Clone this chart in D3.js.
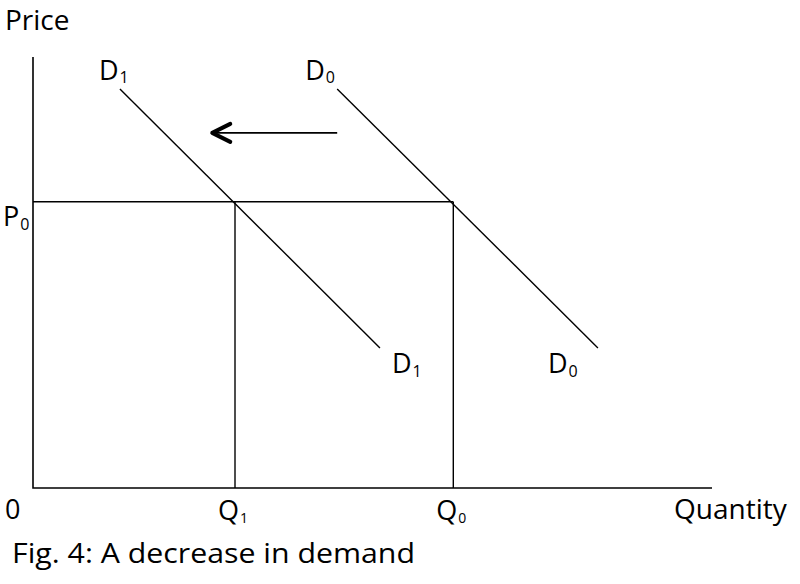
<!DOCTYPE html>
<meta charset="utf-8">
<style>
body { margin: 0; background: #fff; }
text { font-family: "Open Sans", sans-serif; fill: #000; }
.curve, .guide, .axis-line { stroke: #000; fill: none; }
</style>
<svg width="800" height="584"></svg>
<script src="https://d3js.org/d3.v7.min.js"></script>
<script>

// diagram values (quantity / price units, 0-100)
var priceP0 = 66.4;
var quantities = [ {name: "Q", sub: "1", q: 29.75}, {name: "Q", sub: "0", q: 61.9} ];
var demandCurves = [
  {name: "D", sub: "1", from: [12.8, 92.6], to: [51.1, 32.5]},
  {name: "D", sub: "0", from: [44.8, 92.6], to: [83.2, 32.5]}
];
var shiftArrow = {from: [44.8, 82.4], to: [26.4, 82.4]};
var caption = "Fig. 4: A decrease in demand";

var svg = d3.select("svg"),
    width = +svg.attr("width"),
    height = +svg.attr("height");

var x = d3.scaleLinear().domain([0, 100]).range([33, 712]);
var y = d3.scaleLinear().domain([0, 100]).range([488, 57]);

// label offsets from the curve ends (px)
var topOffset = [[-21, -9], [-32, -9]];
var bottomOffset = [[12, 25], [-50, 25]];

svg.append("defs").append("marker")
    .attr("id", "head")
    .attr("viewBox", "0 0 24 24")
    .attr("refX", 21).attr("refY", 12)
    .attr("markerWidth", 24).attr("markerHeight", 24)
    .attr("markerUnits", "userSpaceOnUse")
    .attr("orient", "auto")
  .append("path")
    .attr("d", "M3,3 L21,12 L3,21")
    .attr("fill", "none")
    .attr("stroke", "#000")
    .attr("stroke-width", 4)
    .attr("stroke-linejoin", "round")
    .attr("stroke-linecap", "round");

// axes
svg.append("path").attr("class", "axis-line")
    .attr("stroke-width", 1.6)
    .attr("d", d3.line()([[x(0), y(100)], [x(0), y(0)], [x(100), y(0)]]));

// guides at P0
var lastQ = d3.max(quantities, function(d) { return d.q; });
svg.append("line").attr("class", "guide")
    .attr("stroke-width", 1.4)
    .attr("x1", x(0)).attr("x2", x(lastQ))
    .attr("y1", y(priceP0)).attr("y2", y(priceP0));

svg.selectAll(".qline")
  .data(quantities)
  .enter().append("line")
    .attr("class", "guide qline")
    .attr("stroke-width", 1.4)
    .attr("x1", function(d) { return x(d.q); })
    .attr("x2", function(d) { return x(d.q); })
    .attr("y1", y(priceP0)).attr("y2", y(0));

// demand curves
svg.selectAll(".curve")
  .data(demandCurves)
  .enter().append("line")
    .attr("class", "curve")
    .attr("stroke-width", 1.4)
    .attr("x1", function(d) { return x(d.from[0]); })
    .attr("y1", function(d) { return y(d.from[1]); })
    .attr("x2", function(d) { return x(d.to[0]); })
    .attr("y2", function(d) { return y(d.to[1]); });

// shift arrow
svg.append("line")
    .attr("stroke", "#000")
    .attr("stroke-width", 1.8)
    .attr("x1", x(shiftArrow.from[0])).attr("y1", y(shiftArrow.from[1]))
    .attr("x2", x(shiftArrow.to[0])).attr("y2", y(shiftArrow.to[1]))
    .attr("marker-end", "url(#head)");

function label(px, py, main, sub, size, subSize, dy) {
  var t = svg.append("text")
      .attr("x", px).attr("y", py)
      .attr("font-size", size);
  t.append("tspan").text(main);
  if (sub) t.append("tspan").attr("font-size", subSize).attr("dy", dy).attr("dx", 1).text(sub);
  return t;
}

// labels
label(5, 30, "Price", null, 28);
demandCurves.forEach(function(d, i) {
  label(x(d.from[0]) + topOffset[i][0], y(d.from[1]) + topOffset[i][1], d.name, d.sub, 27, 16, 3);
  label(x(d.to[0]) + bottomOffset[i][0], y(d.to[1]) + bottomOffset[i][1], d.name, d.sub, 27, 16, 4);
});
label(3, 226, "P", "0", 27, 16, 4);
label(5, 519, "0", null, 27);
quantities.forEach(function(d) {
  label(x(d.q) - 17, 520, d.name, d.sub, 27, 14, 3);
});
label(674, 519, "Quantity", null, 28);
label(12, 563, caption, null, 27)
    .attr("textLength", 403)
    .attr("lengthAdjust", "spacingAndGlyphs");

</script>
